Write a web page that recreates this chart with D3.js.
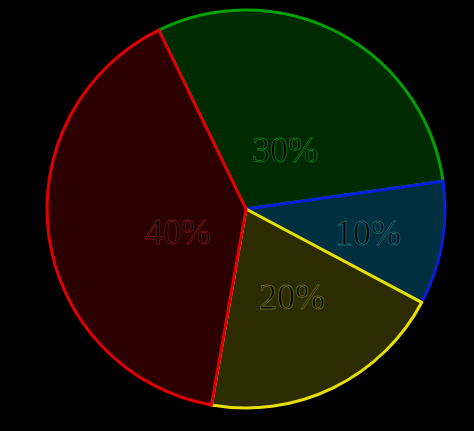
<!DOCTYPE html>
<html><head><meta charset="utf-8">
<script src="https://cdn.jsdelivr.net/npm/d3@7"></script>
<style>body{margin:0;background:#000} text{font-family:'Liberation Serif','DejaVu Serif',serif}</style></head>
<body><svg id="c" width="474" height="431"></svg>
<script>
const labels = ["30%", "10%", "20%", "40%"];
const values = [30, 10, 20, 40];
const fills = ["#002a00", "#003040", "#2c2c00", "#2c0000"];
const strokes = ["#00a000", "#0a1ee0", "#e8e000", "#e00000"];
const textStrokes = ["#1a7a1a", "#1a6a7a", "#6a6a1a", "#7a1a1a"];
const svg = d3.select("#c");
svg.append("rect").attr("width",474).attr("height",431).attr("fill","#000");
const g = svg.append("g").attr("transform","translate(246,209)");
const start = -26*Math.PI/180;
const pie = d3.pie().sort(null).value(d=>d).startAngle(start).endAngle(start+2*Math.PI);
const arcs = pie(values);
const arc = d3.arc().innerRadius(0).outerRadius(199);
g.selectAll("path").data(arcs).join("path").attr("d",arc)
 .attr("fill",(d,i)=>fills[i]).attr("stroke",(d,i)=>strokes[i]).attr("stroke-width",3).attr("stroke-linejoin","round");
const pos = [[39,-59],[122,24],[46,88],[-68,23]];
g.selectAll("text").data(arcs).join("text")
 .attr("x",(d,i)=>pos[i][0]).attr("y",(d,i)=>pos[i][1])
 .attr("text-anchor","middle").attr("dominant-baseline","central")
 .attr("font-size",36)
 .attr("fill","#000").attr("stroke",(d,i)=>textStrokes[i]).attr("stroke-width",0.8)
 .text((d,i)=>labels[i]);
</script></body></html>
